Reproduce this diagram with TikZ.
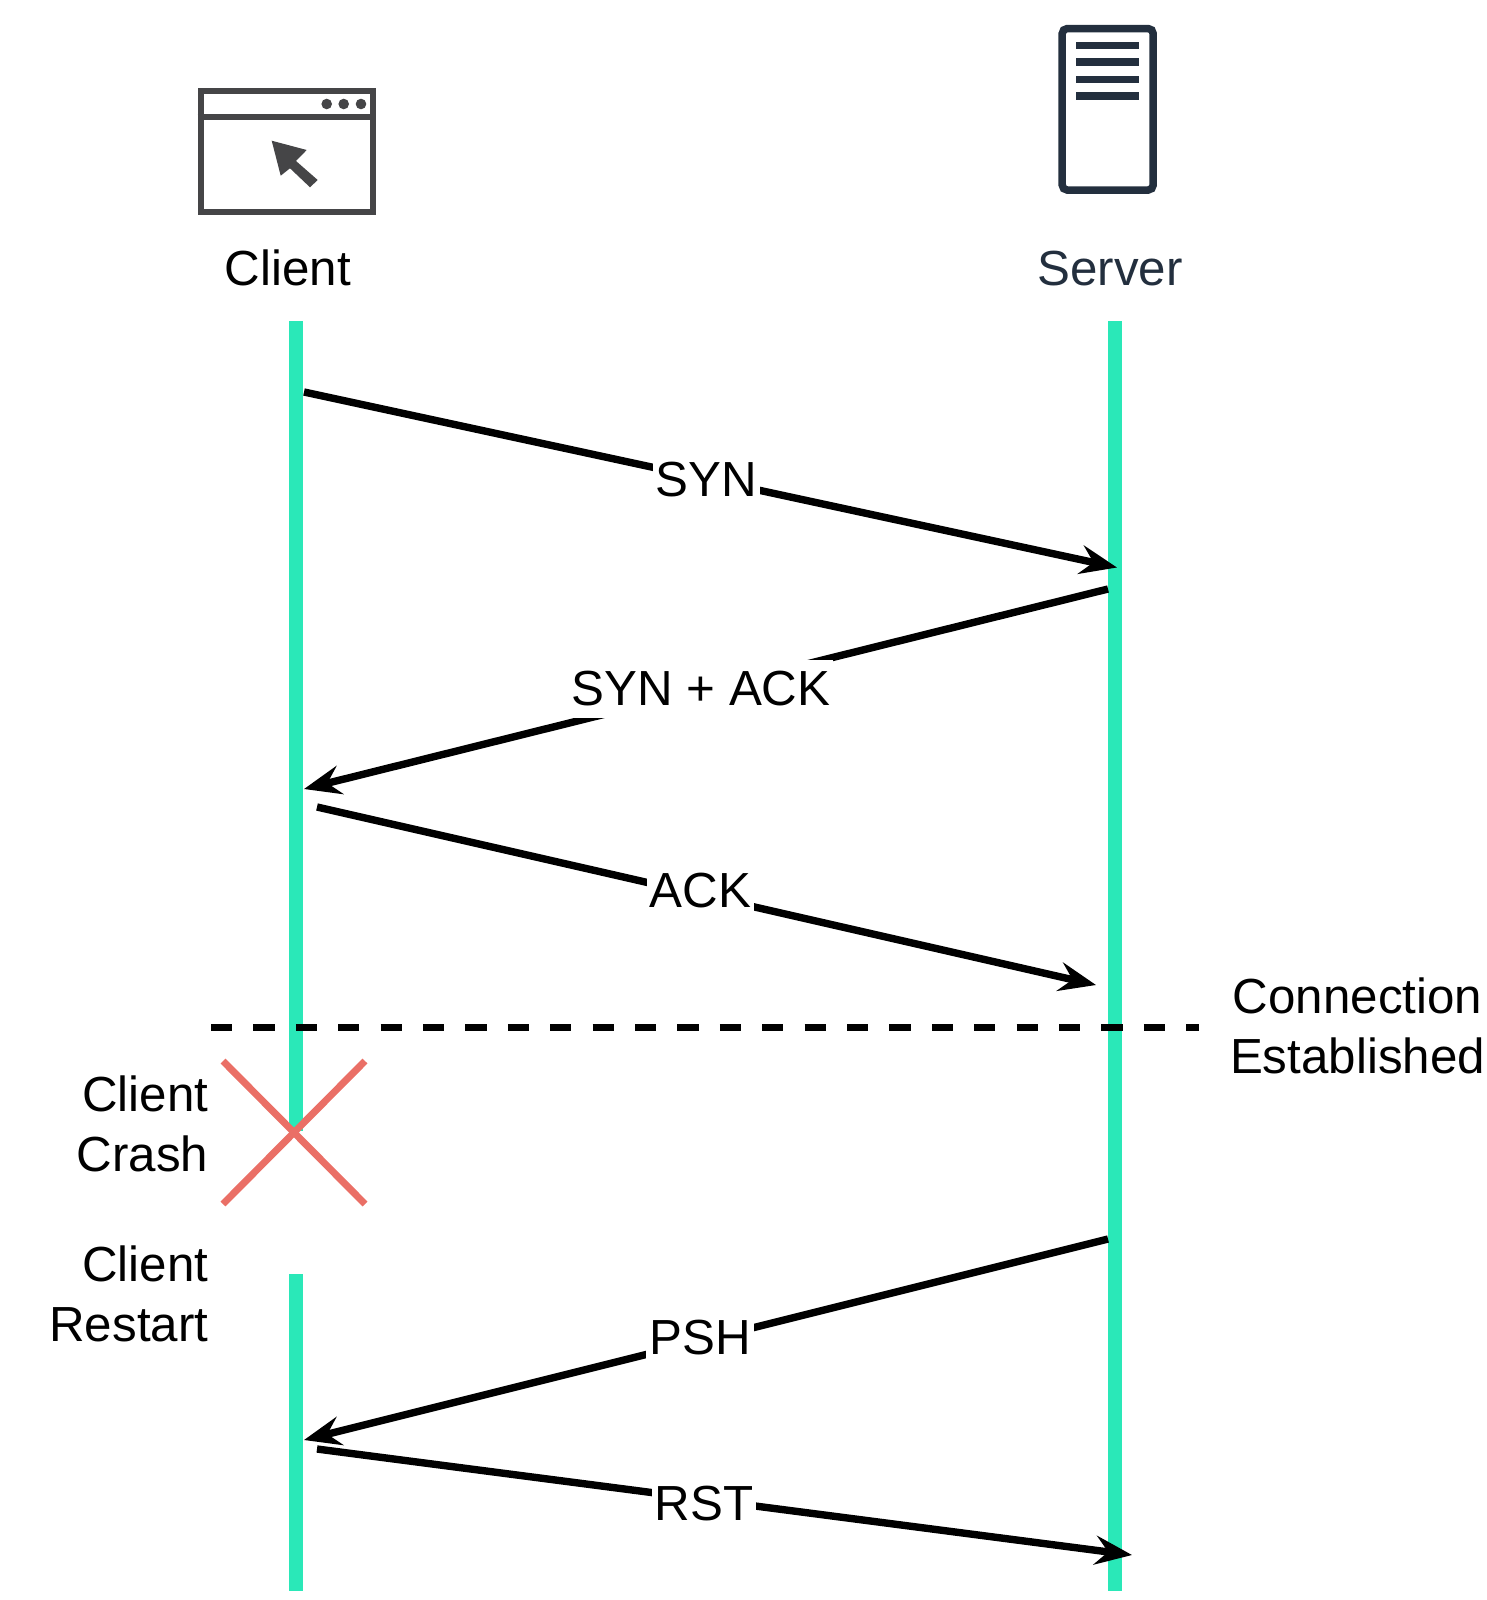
\documentclass[tikz,border=0pt]{standalone}
\usepackage{fontspec}
\setmainfont{Liberation Sans}
\usetikzlibrary{arrows.meta,positioning}
\definecolor{lifeclr}{HTML}{2AE8B8}
\definecolor{crossclr}{HTML}{EA6F66}
\definecolor{clientclr}{HTML}{454547}
\definecolor{serverclr}{HTML}{232F3E}

\begin{document}
\begin{tikzpicture}[
		x=1pt,
		y=-1pt,
		every node/.style={
			font=\fontsize{49.3}{60}\selectfont,
		},
		life/.style={
			draw=lifeclr,
			line width=14.5pt,
		},
		msg/.style={
			draw=black,
			line width=7.4pt,
			-{Stealth[length=37pt,width=29pt,inset=13pt]},
		},
		msglabel/.style={
			fill=white,
			inner xsep=3pt,
			inner ysep=0pt,
			minimum height=58pt,
		},
		note/.style={
			align=right,
			inner sep=0pt,
		},
		]
		\useasboundingbox (0,0) rectangle (1486,1600);
		% lifelines
		\coordinate (clienttop) at (296,321);
		\coordinate (clientcrash) at (296,1131);
		\coordinate (clientback) at (296,1274);
		\coordinate (clientend) at (296,1591);
		\coordinate (servertop) at (1115,321);
		\coordinate (serverend) at (1115,1591);
		\draw[life] (clienttop) -- (clientcrash);
		\draw[life] (clientback) -- (clientend);
		\draw[life] (servertop) -- (serverend);
		% client icon
		\node[draw=clientclr,line width=6pt,minimum width=172.5pt,minimum height=121.6pt,inner sep=0pt] (clientwin) at (286.8,151.5) {};
		\draw[clientclr,line width=6pt] (clientwin.west |- 0,116.7) -- (clientwin.east |- 0,116.7);
		\foreach \dx in {326.7,343.7,361}
			\fill[clientclr] (\dx,104) circle (5.3);
		\fill[clientclr] (271.7,140.7) -- (306.7,150) -- (296,161) -- (317.7,180) -- (310,187.3) -- (290,168.3) -- (280.7,175.7) -- cycle;
		\node (client) at (288,268) {Client};
		% server icon
		\node[draw=serverclr,line width=7.5pt,rounded corners=5pt,minimum width=91pt,minimum height=161.5pt,inner sep=0pt] (serverbox) at (1107.7,109.3) {};
		\foreach \by in {45.7,62,79.3,96}
			\fill[serverclr] (1075.7,\by-3.7) rectangle (1139.3,\by+3.7);
		\node[text=serverclr] (server) at (1110,269) {Server};
		% messages
		\coordinate (a1) at (304,392);
		\coordinate (b1) at (1117,567.5);
		\coordinate (a2) at (1108,589);
		\coordinate (b2) at (304,789);
		\coordinate (a3) at (317,807);
		\coordinate (b3) at (1096,985);
		\coordinate (a4) at (1108,1239);
		\coordinate (b4) at (304,1440);
		\coordinate (a5) at (317,1449);
		\coordinate (b5) at (1132,1555);
		\foreach \mi/\txt/\ps/\sx/\sy in {1/SYN/.5/-4/0,2/SYN + ACK/.5/-5/0,3/ACK/.5/-6/5,4/PSH/.5/-6/2,5/RST/.475/0/-4}
			\draw[msg] (a\mi) -- node[msglabel,pos=\ps,xshift=\sx pt,yshift=\sy pt,text=black] (lab\mi) {\txt} (b\mi);
		% connection line
		\coordinate (dashl) at (211,1027);
		\coordinate (dashr) at (1199,1027);
		\draw[line width=7pt,dash pattern=on 21.2pt off 21.2pt] (dashl) -- (dashr);
		\node[align=center,inner sep=0pt] (established) at (1357.5,1025.5) {Connection\\Established};
		% crash
		\coordinate (x1) at (223,1061);
		\coordinate (x2) at (365,1204);
		\coordinate (x3) at (365,1061);
		\coordinate (x4) at (223,1204);
		\draw[crossclr,line width=7pt] (x1) -- (x2);
		\draw[crossclr,line width=7pt] (x3) -- (x4);
		\node[note,anchor=east] (crash) at (208.5,1124) {Client\\Crash};
		\node[note,anchor=east] (restart) at (208.5,1294) {Client\\Restart};
\end{tikzpicture}
\end{document}
